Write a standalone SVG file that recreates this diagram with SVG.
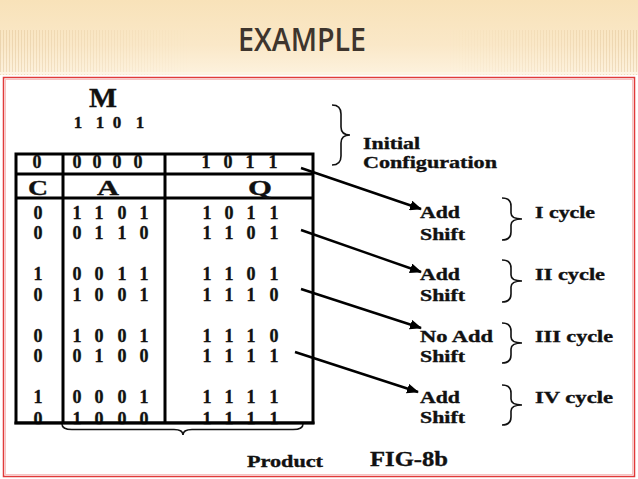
<svg xmlns="http://www.w3.org/2000/svg" width="638" height="479" viewBox="0 0 638 479">
  <defs>
    <linearGradient id="band" x1="0" y1="0" x2="0" y2="1">
      <stop offset="0" stop-color="#f8e2b9"/>
      <stop offset="0.6" stop-color="#fae8c8"/>
      <stop offset="1" stop-color="#fdf2de"/>
    </linearGradient>
    <pattern id="stripes" width="3" height="10" patternUnits="userSpaceOnUse">
      <rect x="0" y="0" width="1" height="10" fill="#d9b98a"/>
    </pattern>
    <linearGradient id="fadeH" x1="0" y1="0" x2="1" y2="0">
      <stop offset="0" stop-color="#fff" stop-opacity="0.5"/>
      <stop offset="0.3" stop-color="#fff" stop-opacity="0"/>
      <stop offset="0.7" stop-color="#fff" stop-opacity="0"/>
      <stop offset="1" stop-color="#fff" stop-opacity="0.5"/>
    </linearGradient>
    <mask id="stripeMask">
      <rect x="0" y="0" width="638" height="75" fill="url(#fadeH)"/>
    </mask>
    <marker id="arrow" markerWidth="12" markerHeight="10" refX="11" refY="5" orient="auto" markerUnits="userSpaceOnUse">
      <path d="M0,0 L12,5 L0,10 Z" fill="#000"/>
    </marker>
  </defs>
  <style>
    .t { font-family: "Liberation Serif", "Times New Roman", serif; font-weight: bold; fill: #111; stroke: #111; stroke-width: 0.35; }
    .d { font-size: 18px; text-anchor: middle; }
    .lbl { font-size: 17px; }
    .grid { stroke: #000; stroke-width: 3; fill: none; }
    .brace { stroke: #111; stroke-width: 1.6; fill: none; }
    .conn { stroke: #000; stroke-width: 2.4; fill: none; marker-end: url(#arrow); }
  </style>

  <rect x="0" y="0" width="638" height="479" fill="#fff"/>

  <g id="header">
    <rect x="0" y="0" width="638" height="75" fill="url(#band)"/>
    <rect x="0" y="30" width="638" height="45" fill="url(#stripes)" mask="url(#stripeMask)" opacity="0.8"/>
    <rect x="0" y="72" width="638" height="2" fill="#fdf4e4"/>
    <text x="302" y="51" font-family="Open Sans, Liberation Sans, Arial, sans-serif" font-weight="600" font-size="32" fill="#3e352d" text-anchor="middle" textLength="128" lengthAdjust="spacingAndGlyphs">EXAMPLE</text>
  </g>

  <g id="frame">
    <rect x="3.5" y="77.5" width="631" height="399" fill="none" stroke="#e03a3a" stroke-width="1.5"/>
    <rect x="5.5" y="79.5" width="627" height="395" fill="none" stroke="#f6c4c4" stroke-width="1"/>
  </g>

  <g id="multiplicand">
    <text class="t" x="103" y="107" font-size="27" text-anchor="middle" textLength="28" lengthAdjust="spacingAndGlyphs">M</text>
    <text class="t" x="78 100 117 140" y="128" font-size="17" text-anchor="middle">1101</text>
  </g>

  <g id="table">
    <rect class="grid" x="16" y="154" width="297" height="269"/>
    <line class="grid" x1="16" y1="174" x2="313" y2="174"/>
    <line class="grid" x1="16" y1="198" x2="313" y2="198"/>
    <line class="grid" x1="63" y1="154" x2="63" y2="423"/>
    <line class="grid" x1="165" y1="154" x2="165" y2="423"/>

    <text class="t d" x="37" y="168" font-size="16">0</text>
    <text class="t d" x="77 97 117 138" y="168" font-size="16">0000</text>
    <text class="t d" x="206 228 250 273" y="168" font-size="16">1011</text>

    <text class="t" x="38" y="195" font-size="22" text-anchor="middle" textLength="20" lengthAdjust="spacingAndGlyphs">C</text>
    <text class="t" x="108" y="195" font-size="22" text-anchor="middle" textLength="22" lengthAdjust="spacingAndGlyphs">A</text>
    <text class="t" x="260" y="195" font-size="22" text-anchor="middle" textLength="24" lengthAdjust="spacingAndGlyphs">Q</text>

    <g id="rows">
      <text class="t d" x="38" y="219">0</text>
      <text class="t d" x="77 99 122 144" y="219">1101</text>
      <text class="t d" x="207 229 251 274" y="219">1011</text>

      <text class="t d" x="38" y="239">0</text>
      <text class="t d" x="77 99 122 144" y="239">0110</text>
      <text class="t d" x="207 229 251 274" y="239">1101</text>

      <text class="t d" x="38" y="280">1</text>
      <text class="t d" x="77 99 122 144" y="280">0011</text>
      <text class="t d" x="207 229 251 274" y="280">1101</text>

      <text class="t d" x="38" y="301">0</text>
      <text class="t d" x="77 99 122 144" y="301">1001</text>
      <text class="t d" x="207 229 251 274" y="301">1110</text>

      <text class="t d" x="38" y="342">0</text>
      <text class="t d" x="77 99 122 144" y="342">1001</text>
      <text class="t d" x="207 229 251 274" y="342">1110</text>

      <text class="t d" x="38" y="362">0</text>
      <text class="t d" x="77 99 122 144" y="362">0100</text>
      <text class="t d" x="207 229 251 274" y="362">1111</text>

      <text class="t d" x="38" y="403">1</text>
      <text class="t d" x="77 99 122 144" y="403">0001</text>
      <text class="t d" x="207 229 251 274" y="403">1111</text>

      <text class="t d" x="38" y="425">0</text>
      <text class="t d" x="77 99 122 144" y="425">1000</text>
      <text class="t d" x="207 229 251 274" y="425">1111</text>
    </g>
    <rect x="15" y="424.5" width="300" height="10" fill="#fff"/>
    <line class="grid" x1="14.5" y1="423" x2="314.5" y2="423"/>
  </g>

  <g id="product">
    <path class="brace" d="M62,424 Q62,429.5 72,429.5 L174,429.5 Q183,429.5 183,435 Q183,429.5 192,429.5 L293,429.5 Q303,429.5 303,424"/>
    <text class="t lbl" x="247" y="467" font-size="18" textLength="76" lengthAdjust="spacingAndGlyphs">Product</text>
    <text class="t" x="370" y="466" font-size="21" textLength="78" lengthAdjust="spacingAndGlyphs">FIG-8b</text>
  </g>

  <g id="initial">
    <path class="brace" d="M332,105 Q341,105 341,114 L341,127 Q341,135 350,135 Q341,135 341,143 L341,156 Q341,165 332,165"/>
    <text class="t lbl" x="363" y="149" textLength="57" lengthAdjust="spacingAndGlyphs">Initial</text>
    <text class="t lbl" x="363" y="168" textLength="134" lengthAdjust="spacingAndGlyphs">Configuration</text>
  </g>

  <g id="cycle1">
    <text class="t lbl" x="420" y="218" textLength="40" lengthAdjust="spacingAndGlyphs">Add</text>
    <text class="t lbl" x="420" y="240" textLength="45" lengthAdjust="spacingAndGlyphs">Shift</text>
    <path class="brace" d="M502,198 Q511,198 511,206 L511,213 Q511,219 522,219 Q511,219 511,225 L511,232 Q511,240 502,240"/>
    <text class="t lbl" x="535" y="218" textLength="60" lengthAdjust="spacingAndGlyphs">I cycle</text>
  </g>

  <g id="cycle2">
    <text class="t lbl" x="420" y="280" textLength="40" lengthAdjust="spacingAndGlyphs">Add</text>
    <text class="t lbl" x="420" y="301" textLength="45" lengthAdjust="spacingAndGlyphs">Shift</text>
    <path class="brace" d="M502,260 Q511,260 511,268 L511,275 Q511,281 522,281 Q511,281 511,287 L511,294 Q511,302 502,302"/>
    <text class="t lbl" x="535" y="280" textLength="70" lengthAdjust="spacingAndGlyphs">II cycle</text>
  </g>

  <g id="cycle3">
    <text class="t lbl" x="420" y="342" textLength="73" lengthAdjust="spacingAndGlyphs">No Add</text>
    <text class="t lbl" x="420" y="362" textLength="45" lengthAdjust="spacingAndGlyphs">Shift</text>
    <path class="brace" d="M502,323 Q511,323 511,331 L511,337 Q511,343 522,343 Q511,343 511,349 L511,355 Q511,363 502,363"/>
    <text class="t lbl" x="535" y="342" textLength="78" lengthAdjust="spacingAndGlyphs">III cycle</text>
  </g>

  <g id="cycle4">
    <text class="t lbl" x="420" y="403" textLength="40" lengthAdjust="spacingAndGlyphs">Add</text>
    <text class="t lbl" x="420" y="423" textLength="45" lengthAdjust="spacingAndGlyphs">Shift</text>
    <path class="brace" d="M502,385 Q511,385 511,393 L511,399 Q511,405 522,405 Q511,405 511,411 L511,417 Q511,425 502,425"/>
    <text class="t lbl" x="535" y="403" textLength="78" lengthAdjust="spacingAndGlyphs">IV cycle</text>
  </g>

  <g id="connectors">
    <line class="conn" x1="301" y1="168" x2="421" y2="209"/>
    <line class="conn" x1="301" y1="230" x2="421" y2="272"/>
    <line class="conn" x1="301" y1="289" x2="421" y2="328"/>
    <line class="conn" x1="295" y1="352" x2="418" y2="392"/>
  </g>
</svg>
